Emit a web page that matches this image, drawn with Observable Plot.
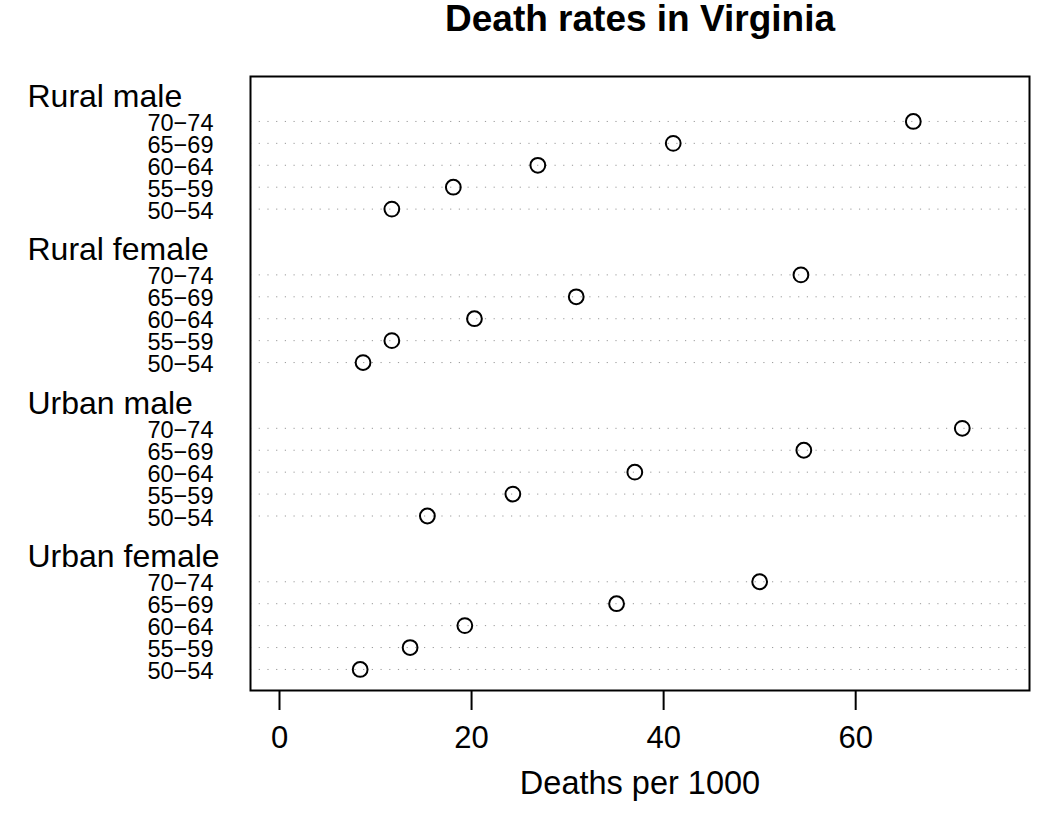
<!DOCTYPE html>
<html>
<head>
<meta charset="utf-8">
<script src="https://cdn.jsdelivr.net/npm/d3@7"></script>
<script src="https://cdn.jsdelivr.net/npm/@observablehq/plot@0.6"></script>
<style>
  html, body { margin: 0; padding: 0; background: #fff; }
  #chart svg { display: block; }
</style>
</head>
<body>
<div id="chart"></div>
<script>
// ---- data (VADeaths) ----
const title = "Death rates in Virginia";
const xLabel = "Deaths per 1000";
const groups = ["Rural male", "Rural female", "Urban male", "Urban female"];
const ages = ["50\u221254", "55\u221259", "60\u221264", "65\u221269", "70\u221274"];
const ruralMale   = [11.7, 18.1, 26.9, 41.0, 66.0];
const ruralFemale = [8.7, 11.7, 20.3, 30.9, 54.3];
const urbanMale   = [15.4, 24.3, 37.0, 54.6, 71.1];
const urbanFemale = [8.4, 13.6, 19.3, 35.1, 50.0];
const xTicks = [0, 20, 40, 60];

const seriesValues = [ruralMale, ruralFemale, urbanMale, urbanFemale];

// rows: each group = header row, then ages from oldest to youngest, then a gap row
const headerRows = [];
const dataRows = [];
groups.forEach((g, gi) => {
  const base = gi * (ages.length + 2);
  headerRows.push({ label: g, row: base });
  for (let k = ages.length - 1, r = 1; k >= 0; k--, r++) {
    dataRows.push({ group: g, age: ages[k], value: seriesValues[gi][k], row: base + r });
  }
});

const font = "'Liberation Sans', Arial, Helvetica, sans-serif";

const chart = Plot.plot({
  width: 1052,
  height: 830,
  marginLeft: 250,
  marginRight: 23,
  marginTop: 76,
  marginBottom: 140,
  style: { fontFamily: font, background: "#fff", color: "#000" },
  x: { domain: [-3.02, 78.1] },
  y: { domain: [26.96, -1.05], axis: null },
  marks: [
    Plot.ruleY(dataRows, { y: "row", stroke: "#999", strokeWidth: 1, strokeDasharray: "1.2,7.5" }),
    Plot.dot(dataRows, { x: "value", y: "row", r: 7.4, stroke: "#000", strokeWidth: 2, fill: "none" }),
    Plot.text(dataRows, { y: "row", text: "age", frameAnchor: "left", dx: -37, dy: 2, textAnchor: "end", fontSize: 23.5 }),
    Plot.text(headerRows, { y: "row", text: "label", frameAnchor: "left", dx: -223, dy: -3, textAnchor: "start", fontSize: 32 }),
    Plot.frame({ stroke: "#000", strokeWidth: 2 }),
    Plot.axisX({ ticks: xTicks, tickSize: 20, tickPadding: 15, fontSize: 31, strokeWidth: 2, label: null }),
    Plot.text([xLabel], { frameAnchor: "bottom", dy: 93, fontSize: 32.5, lineAnchor: "middle" }),
    Plot.text([title], { frameAnchor: "top", dy: -57, fontSize: 37, fontWeight: "bold", lineAnchor: "middle" })
  ]
});

document.getElementById("chart").appendChild(chart);
</script>
</body>
</html>
